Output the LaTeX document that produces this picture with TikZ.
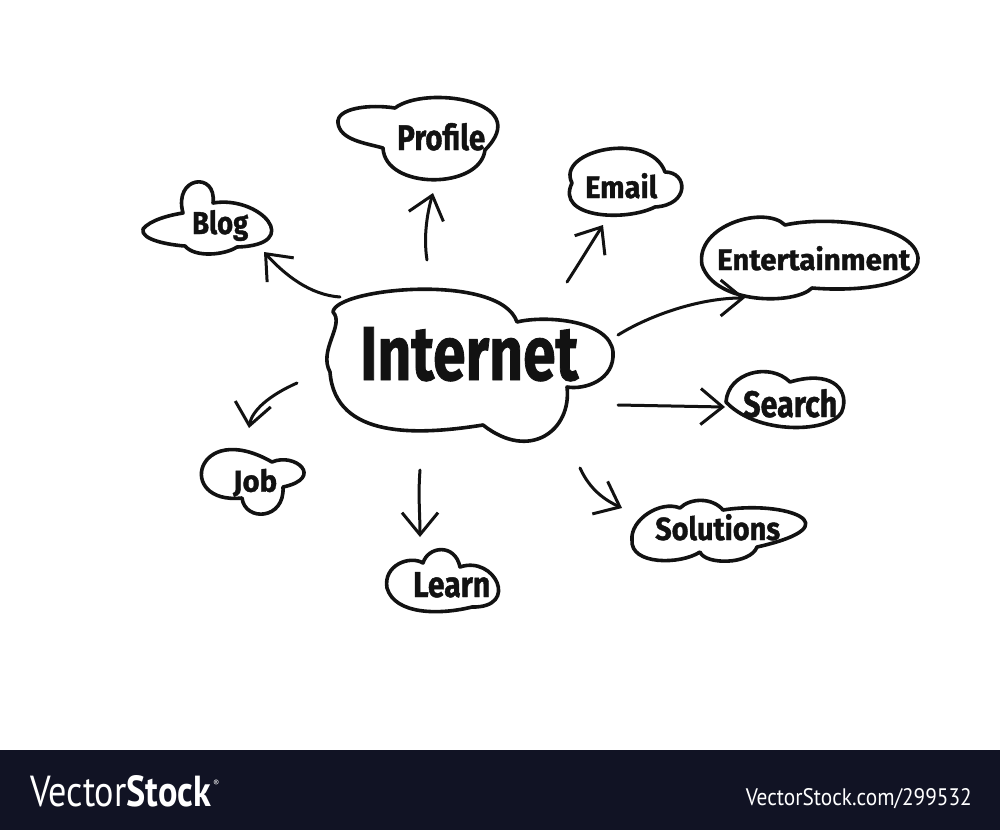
\documentclass[tikz,border=0pt]{standalone}
\usepackage{graphicx}
\usepackage{fontspec}
\usetikzlibrary{arrows.meta}
\newfontfamily\cloudfont{Fira Sans}[BoldFeatures={FakeBold=1.2}]
\newfontfamily\bannerfont{PT Sans}
\definecolor{bannerbg}{RGB}{17,19,36}
\definecolor{ink}{RGB}{18,18,18}
\newcommand\fitText[3]{\resizebox{#1pt}{#2pt}{#3}}
\newcommand\fitTextAll[3]{\resizebox*{#1pt}{#2pt}{#3}}
\begin{document}
\begin{tikzpicture}[x=1pt,y=-1pt,
  cloud/.style={draw=ink,line width=3.6pt,line join=round,line cap=round},
  lbl/.style={anchor=base west,inner sep=0pt,text=ink,font=\cloudfont\bfseries},
  arr/.style={draw=ink,line width=3pt,line cap=round,
    -{Straight Barb[length=22pt,width=36pt,line width=3pt]}}]
\useasboundingbox (0,0) rectangle (1000,830);
\fill[white] (0,0) rectangle (1000,750);
% ---------- clouds ----------
% Internet
\draw[cloud] (333,312) .. controls (335,288) and (500,272) .. (517,322)
 .. controls (545,315) and (610,320) .. (613,352)
 .. controls (615,380) and (585,390) .. (567,387)
 .. controls (572,430) and (530,462) .. (483,425)
 .. controls (420,435) and (335,440) .. (330,372)
 .. controls (318,350) and (345,325) .. cycle;
% Blog
\draw[cloud] (143,229) .. controls (150,220) and (170,215) .. (183,213)
 .. controls (173,176) and (217,171) .. (213,203)
 .. controls (260,195) and (305,245) .. (237,247)
 .. controls (225,255) and (195,258) .. (185,246)
 .. controls (170,245) and (140,240) .. cycle;
% Profile
\draw[cloud] (338,123) .. controls (336,108) and (370,104) .. (395,108)
 .. controls (425,85) and (535,100) .. (485,150)
 .. controls (480,190) and (385,190) .. (383,148)
 .. controls (365,143) and (340,140) .. cycle;
% Email
\draw[cloud] (572,183) .. controls (555,150) and (650,130) .. (665,172)
 .. controls (688,172) and (690,205) .. (655,207)
 .. controls (625,222) and (555,218) .. cycle;
% Entertainment
\draw[cloud] (702,265) .. controls (695,225) and (765,205) .. (785,225)
 .. controls (830,215) and (915,225) .. (918,258)
 .. controls (920,285) and (860,292) .. (812,288)
 .. controls (795,305) and (715,305) .. cycle;
% Search
\draw[cloud] (726,402) .. controls (728,372) and (770,362) .. (790,382)
 .. controls (830,370) and (848,388) .. (843,408)
 .. controls (840,432) and (760,438) .. cycle;
% Job
\draw[cloud] (272,462) .. controls (295,452) and (325,478) .. (283,487)
 .. controls (285,520) and (245,522) .. (242,498)
 .. controls (175,505) and (195,418) .. cycle;
% Learn
\draw[cloud] (423,563) .. controls (428,546) and (455,543) .. (460,567)
 .. controls (495,555) and (520,608) .. (472,607)
 .. controls (440,615) and (395,615) .. (387,588)
 .. controls (383,565) and (410,555) .. cycle;
% Solutions
\draw[cloud] (632,540) .. controls (630,520) and (660,500) .. (680,508)
 .. controls (690,498) and (712,497) .. (723,510)
 .. controls (785,500) and (855,525) .. (757,547)
 .. controls (750,565) and (705,565) .. (700,552)
 .. controls (680,565) and (630,565) .. cycle;
% ---------- labels ----------
\node[lbl] (internet) at (360,380) {\fitText{218}{53}{Internet}};
\node[lbl] (profile) at (397,150) {\fitText{88}{27}{Profile}};
\node[lbl] (blog) at (192,234) {\fitText{56}{24}{Blog}};
\node[lbl] (email) at (585,198) {\fitText{72}{25}{Email}};
\node[lbl] (entertainment) at (717,270) {\fitText{193}{24}{Entertainment}};
\node[lbl] (search) at (743,417) {\fitText{94}{28}{Search}};
\node[lbl,anchor=south west] (job) at (233,497) {\fitTextAll{44}{28}{Job}};
\node[lbl] (learn) at (413,597) {\fitText{77}{25}{Learn}};
\node[lbl] (solutions) at (655,540) {\fitText{125}{26}{Solutions}};
% ---------- arrows ----------
\coordinate (blogS) at (340,297);   \coordinate (blogT) at (264,252);
\coordinate (profS) at (427,260);   \coordinate (profT) at (433,193);
\coordinate (emailS) at (567,282);  \coordinate (emailT) at (603,225);
\coordinate (entS) at (618,335);    \coordinate (entT) at (745,298);
\coordinate (searchS) at (618,405); \coordinate (searchT) at (725,407);
\coordinate (jobS) at (297,383);    \coordinate (jobT) at (249,428);
\coordinate (learnS) at (420,470);  \coordinate (learnT) at (420,537);
\coordinate (solS) at (580,468);    \coordinate (solT) at (622,508);
\draw[arr] (blogS) .. controls (310,295) and (285,275) .. (blogT);
\draw[arr] (profS) .. controls (423,235) and (428,210) .. (profT);
\draw[arr] (emailS) .. controls (580,262) and (592,242) .. (emailT);
\draw[arr] (entS) .. controls (650,315) and (700,298) .. (entT);
\draw[arr] (searchS) -- (searchT);
\draw[arr] (jobS) .. controls (270,395) and (252,410) .. (jobT);
\draw[arr] (learnS) .. controls (418,495) and (420,515) .. (learnT);
\draw[arr] (solS) .. controls (590,490) and (605,500) .. (solT);
% ---------- banner ----------
\fill[bannerbg] (0,750) rectangle (1000,830);
\node[anchor=base west,inner sep=0pt,text=white] (brand) at (30,806)
  {\fitText{181}{31}{{\bannerfont Vector}{\bannerfont\bfseries Stock}}};
\node[anchor=base west,inner sep=0pt,text=white,font=\bannerfont\fontsize{9}{9}\selectfont] (reg) at (213,786) {\textregistered};
\node[anchor=base east,inner sep=0pt,text=white] (url) at (972,805)
  {\fitText{226}{17}{\bannerfont VectorStock.com/299532}};
\end{tikzpicture}
\end{document}
